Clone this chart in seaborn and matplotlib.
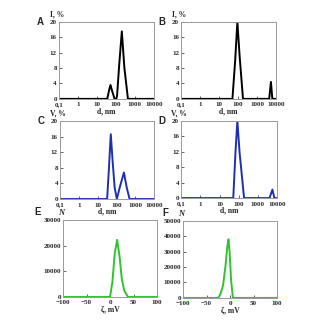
import pandas as pd
import seaborn as sns
import matplotlib.pyplot as plt

# size distributions (intensity), panel A and B
a_d = [0.1, 30, 35, 45, 52, 62, 85, 105, 115, 150, 205, 280, 430, 10000]
a_i = [0, 0, 0, 2.5, 3.6, 2.2, 0, 0, 0.8, 9, 17.5, 8, 0, 0]
b_d = [0.1, 50, 70, 91, 120, 180, 4300, 5300, 6300, 10000]
b_i = [0, 0, 10, 20, 11, 0, 0, 4.4, 0, 0]

# size distributions (volume), panel C and D
c_d = [0.1, 32, 40, 50, 62, 80, 105, 150, 250, 350, 500, 10000]
c_v = [0, 0, 8, 16.6, 10, 3, 0, 3, 6.8, 3, 0, 0]
d_d = [0.1, 52, 68, 85, 110, 190, 4000, 5700, 7200, 10000]
d_v = [0, 0, 12, 20, 12, 0, 0, 2.2, 0, 0]

# zeta potential, panel E and F
e_z = [-100, 0, 5, 10, 15, 20, 25, 30, 38, 100]
e_n = [0, 0, 6000, 17000, 22200, 16000, 7000, 2500, 0, 0]
f_z = [-100, -25, -20, -15, -10, -6, -3.5, -1, 2, 6, 100]
f_n = [0, 0, 3000, 8000, 20000, 33000, 38000, 30000, 12000, 0, 0]

size_ticks = [0.1, 1, 10, 100, 1000, 10000]
size_labels = ["0,1", "1", "10", "100", "1000", "10000"]
zeta_ticks = [-100, -50, 0, 50, 100]

sns.set_style("white")
plt.rcParams['font.family'] = ['Liberation Serif', 'DejaVu Serif']

fig = plt.figure(figsize=(3.2, 3.2), dpi=100)

panels = [
    ("A", [0.184, 0.691, 0.297, 0.241], a_d, a_i, "black", "I, %", "d, nm"),
    ("B", [0.566, 0.691, 0.297, 0.241], b_d, b_i, "black", "I, %", "d, nm"),
    ("C", [0.1875, 0.378, 0.294, 0.244], c_d, c_v, "#1f2fb0", "V, %", "d, nm"),
    ("D", [0.566, 0.381, 0.300, 0.241], d_d, d_v, "#1f2fb0", "V, %", "d, nm"),
    ("E", [0.197, 0.072, 0.294, 0.241], e_z, e_n, "#2ec42e", "N", "ζ, mV"),
    ("F", [0.572, 0.069, 0.294, 0.241], f_z, f_n, "#2ec42e", "N", "ζ, mV"),
]

for letter, pos, xs, ys, color, ylab, xlab in panels:
    ax = fig.add_axes(pos)
    df = pd.DataFrame({"x": xs, "y": ys})
    sns.lineplot(x="x", y="y", data=df, ax=ax, color=color, linewidth=1.4)
    if xlab == "d, nm":
        ax.set_xscale("log")
        ax.set_xlim(0.1, 10000)
        ax.set_xticks(size_ticks)
        ax.set_xticklabels(size_labels)
        ax.minorticks_off()
        ax.set_ylim(0, 20)
        ax.set_yticks([0, 4, 8, 12, 16, 20])
    else:
        ax.set_xlim(-100, 100)
        ax.set_xticks(zeta_ticks)
        top = 30000 if letter == "E" else 50000
        ax.set_ylim(0, top)
        ax.set_yticks(list(range(0, top + 1, 10000)))
    ax.tick_params(labelsize=5, length=2, width=0.5, direction="in",
                   left=True, bottom=True)
    ax.tick_params(axis="x", pad=2.5)
    ax.tick_params(axis="y", pad=1.5)
    for lab in ax.get_xticklabels() + ax.get_yticklabels():
        lab.set_fontweight("bold")
    for sp in ax.spines.values():
        sp.set_color("#999999")
        sp.set_linewidth(0.7)
    ax.set_xlabel(xlab, fontsize=5.5, fontweight="bold", labelpad=0)
    ax.set_ylabel("")
    style = "italic" if ylab == "N" else "normal"
    ax.text(-0.02, 1.04, ylab, transform=ax.transAxes, fontsize=6 if ylab == "N" else 5.5,
            fontweight="bold", fontstyle=style, ha="center", va="bottom")
    if letter in "EF":
        lx, ly = (-0.27, 1.1) if letter == "E" else (-0.19, 1.1)
    else:
        lx, ly = -0.2, 1.0
    ax.text(lx, ly, letter, transform=ax.transAxes, fontsize=7,
            fontweight="bold", family="Liberation Sans", ha="center", va="center")

fig.savefig("out.png", dpi=100)
